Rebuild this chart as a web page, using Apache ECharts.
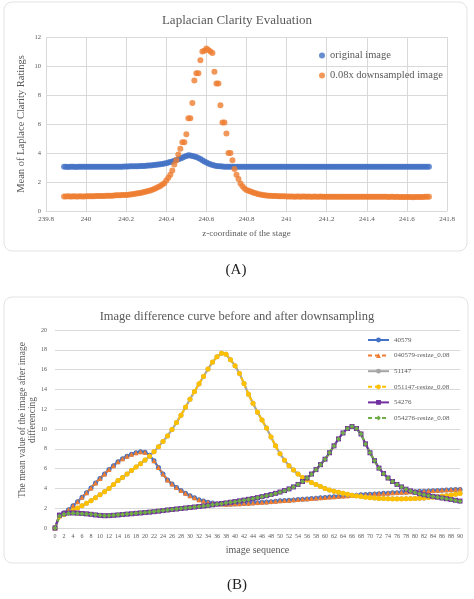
<!DOCTYPE html>
<html>
<head>
<meta charset="utf-8">
<script src="https://cdn.jsdelivr.net/npm/echarts@6/dist/echarts.min.js"></script>
<style>
  html, body { margin: 0; padding: 0; background: #fff; }
  #chart { width: 474px; height: 599px; }
</style>
</head>
<body>
<div id="chart"></div>
<script>
// ---- (A) Laplacian clarity: z-coordinate of the stage ----
const zValues = [
  239.89, 239.90, 239.91, 239.92, 239.93, 239.94, 239.95, 239.96, 239.97, 239.98, 239.99,
  240.00, 240.01, 240.02, 240.03, 240.04, 240.05, 240.06, 240.07, 240.08, 240.09,
  240.10, 240.11, 240.12, 240.13, 240.14, 240.15, 240.16, 240.17, 240.18, 240.19,
  240.20, 240.21, 240.22, 240.23, 240.24, 240.25, 240.26, 240.27, 240.28, 240.29,
  240.30, 240.31, 240.32, 240.33, 240.34, 240.35, 240.36, 240.37, 240.38, 240.39,
  240.40, 240.41, 240.42, 240.43, 240.44, 240.45, 240.46, 240.47, 240.48, 240.49,
  240.50, 240.51, 240.52, 240.53, 240.54, 240.55, 240.56, 240.57, 240.58, 240.59,
  240.60, 240.61, 240.62, 240.63, 240.64, 240.65, 240.66, 240.67, 240.68, 240.69,
  240.70, 240.71, 240.72, 240.73, 240.74, 240.75, 240.76, 240.77, 240.78, 240.79,
  240.80, 240.81, 240.82, 240.83, 240.84, 240.85, 240.86, 240.87, 240.88, 240.89,
  240.90, 240.91, 240.92, 240.93, 240.94, 240.95, 240.96, 240.97, 240.98, 240.99,
  241.00, 241.01, 241.02, 241.03, 241.04, 241.05, 241.06, 241.07, 241.08, 241.09,
  241.10, 241.11, 241.12, 241.13, 241.14, 241.15, 241.16, 241.17, 241.18, 241.19,
  241.20, 241.21, 241.22, 241.23, 241.24, 241.25, 241.26, 241.27, 241.28, 241.29,
  241.30, 241.31, 241.32, 241.33, 241.34, 241.35, 241.36, 241.37, 241.38, 241.39,
  241.40, 241.41, 241.42, 241.43, 241.44, 241.45, 241.46, 241.47, 241.48, 241.49,
  241.50, 241.51, 241.52, 241.53, 241.54, 241.55, 241.56, 241.57, 241.58, 241.59,
  241.60, 241.61, 241.62, 241.63, 241.64, 241.65, 241.66, 241.67, 241.68, 241.69, 241.70, 241.71
];

const originalImage = [
  3.05, 3.05, 3.04, 3.05, 3.05, 3.05, 3.04, 3.05, 3.05, 3.05, 3.05,
  3.05, 3.05, 3.05, 3.05, 3.05, 3.05, 3.05, 3.05, 3.05, 3.05,
  3.05, 3.05, 3.05, 3.06, 3.05, 3.06, 3.06, 3.06, 3.06, 3.07,
  3.07, 3.07, 3.08, 3.08, 3.08, 3.09, 3.09, 3.10, 3.10, 3.11,
  3.12, 3.13, 3.14, 3.15, 3.17, 3.19, 3.21, 3.23, 3.25, 3.28,
  3.30, 3.34, 3.38, 3.42, 3.47, 3.52, 3.57, 3.62, 3.68, 3.74,
  3.80, 3.85, 3.83, 3.80, 3.76, 3.72, 3.65, 3.58, 3.50, 3.42,
  3.35, 3.28, 3.22, 3.18, 3.14, 3.11, 3.09, 3.08, 3.07, 3.06,
  3.06, 3.05, 3.05, 3.05, 3.05, 3.05, 3.05, 3.05, 3.05, 3.05,
  3.05, 3.05, 3.05, 3.05, 3.05, 3.05, 3.05, 3.05, 3.05, 3.05,
  3.05, 3.05, 3.05, 3.05, 3.05, 3.05, 3.05, 3.05, 3.05, 3.05,
  3.05, 3.05, 3.05, 3.05, 3.05, 3.05, 3.05, 3.05, 3.05, 3.05,
  3.05, 3.05, 3.05, 3.05, 3.05, 3.05, 3.05, 3.05, 3.05, 3.05,
  3.05, 3.05, 3.05, 3.05, 3.05, 3.05, 3.05, 3.05, 3.05, 3.05,
  3.05, 3.05, 3.05, 3.05, 3.05, 3.05, 3.05, 3.05, 3.05, 3.05,
  3.05, 3.05, 3.05, 3.05, 3.05, 3.05, 3.05, 3.05, 3.05, 3.05,
  3.05, 3.05, 3.05, 3.05, 3.05, 3.05, 3.05, 3.05, 3.05, 3.05,
  3.05, 3.05, 3.05, 3.05, 3.05, 3.05, 3.05, 3.05, 3.05, 3.05, 3.05, 3.05
];

const downsampledImage = [
  1.00, 1.00, 1.01, 1.00, 1.00, 1.01, 1.00, 1.00, 1.01, 1.00, 1.00,
  1.01, 1.01, 1.02, 1.02, 1.02, 1.03, 1.03, 1.03, 1.04, 1.04,
  1.05, 1.05, 1.06, 1.06, 1.07, 1.08, 1.08, 1.09, 1.10, 1.10,
  1.11, 1.12, 1.14, 1.16, 1.18, 1.20, 1.22, 1.25, 1.28, 1.31,
  1.35, 1.38, 1.42, 1.47, 1.52, 1.58, 1.65, 1.73, 1.82, 1.92,
  2.10, 2.30, 2.50, 2.80, 3.20, 3.50, 3.90, 4.30, 4.75, 4.75,
  5.30, 6.40, 6.40, 7.45, 9.00, 9.50, 9.50, 10.40, 11.00, 11.05,
  11.20, 11.10, 11.00, 10.90, 9.60, 8.80, 8.80, 7.30, 6.10, 6.10,
  5.35, 4.00, 4.00, 3.50, 2.90, 2.50, 2.20, 1.90, 1.70, 1.55,
  1.45, 1.40, 1.35, 1.30, 1.25, 1.20, 1.16, 1.13, 1.10, 1.08,
  1.07, 1.06, 1.05, 1.04, 1.03, 1.03, 1.02, 1.02, 1.01, 1.01,
  1.00, 1.00, 1.00, 1.00, 0.99, 1.00, 1.00, 0.99, 1.00, 1.00,
  0.99, 1.00, 0.99, 0.99, 1.00, 0.99, 0.99, 1.00, 0.99, 0.99,
  0.99, 0.99, 0.98, 0.99, 0.99, 0.98, 0.99, 0.98, 0.98, 0.99,
  0.98, 0.99, 0.98, 0.98, 0.99, 0.98, 0.98, 0.98, 0.99, 0.98,
  0.98, 0.98, 0.98, 0.98, 0.98, 0.98, 0.98, 0.98, 0.98, 0.98,
  0.98, 0.97, 0.98, 0.98, 0.97, 0.98, 0.97, 0.97, 0.97, 0.97,
  0.97, 0.96, 0.96, 0.95, 0.96, 0.96, 0.97, 0.97, 0.97, 0.98, 0.99, 0.98
];

// ---- (B) image difference curves ----
const seqLabels = [
  0, 1, 2, 3, 4, 5, 6, 7, 8, 9, 10, 11, 12, 13, 14, 15, 16, 17, 18, 19,
  20, 21, 22, 23, 24, 25, 26, 27, 28, 29, 30, 31, 32, 33, 34, 35, 36, 37, 38, 39,
  40, 41, 42, 43, 44, 45, 46, 47, 48, 49, 50, 51, 52, 53, 54, 55, 56, 57, 58, 59,
  60, 61, 62, 63, 64, 65, 66, 67, 68, 69, 70, 71, 72, 73, 74, 75, 76, 77, 78, 79,
  80, 81, 82, 83, 84, 85, 86, 87, 88, 89, 90
];

const s40579 = [
  0, 1.30, 1.55, 1.85, 2.25, 2.65, 3.10, 3.55, 4.05, 4.55,
  5.00, 5.45, 5.90, 6.30, 6.70, 7.00, 7.25, 7.45, 7.60, 7.70,
  7.65, 7.35, 6.80, 6.10, 5.45, 4.85, 4.45, 4.10, 3.80, 3.50,
  3.25, 3.05, 2.85, 2.72, 2.60, 2.52, 2.46, 2.42, 2.40, 2.41,
  2.43, 2.45, 2.48, 2.50, 2.53, 2.56, 2.59, 2.62, 2.66, 2.70,
  2.74, 2.77, 2.80, 2.84, 2.87, 2.91, 2.94, 2.98, 3.01, 3.05,
  3.08, 3.12, 3.15, 3.19, 3.22, 3.26, 3.29, 3.32, 3.35, 3.38,
  3.41, 3.44, 3.47, 3.50, 3.52, 3.55, 3.57, 3.60, 3.62, 3.65,
  3.67, 3.70, 3.72, 3.74, 3.77, 3.79, 3.82, 3.84, 3.86, 3.89,
  3.90
];
const s040579 = [
  0, 1.30, 1.56, 1.86, 2.26, 2.66, 3.10, 3.56, 4.05, 4.55,
  5.00, 5.46, 5.90, 6.30, 6.70, 7.00, 7.26, 7.46, 7.60, 7.70,
  7.66, 7.36, 6.80, 6.10, 5.46, 4.86, 4.45, 4.10, 3.80, 3.50,
  3.25, 3.05, 2.86, 2.72, 2.61, 2.53, 2.47, 2.43, 2.41, 2.42,
  2.44, 2.46, 2.49, 2.51, 2.54, 2.57, 2.60, 2.63, 2.67, 2.71,
  2.75, 2.78, 2.81, 2.85, 2.88, 2.92, 2.95, 2.99, 3.02, 3.06,
  3.09, 3.13, 3.16, 3.20, 3.23, 3.27, 3.30, 3.33, 3.36, 3.39,
  3.42, 3.45, 3.48, 3.51, 3.54, 3.57, 3.59, 3.62, 3.64, 3.67,
  3.69, 3.72, 3.74, 3.76, 3.79, 3.81, 3.84, 3.86, 3.88, 3.91,
  3.94
];
const s51147 = [
  0, 1.15, 1.35, 1.55, 1.78, 2.00, 2.25, 2.50, 2.75, 3.05,
  3.35, 3.65, 4.00, 4.40, 4.80, 5.10, 5.45, 5.80, 6.15, 6.50,
  6.85, 7.25, 7.70, 8.20, 8.75, 9.30, 9.95, 10.65, 11.40, 12.20,
  13.00, 13.80, 14.55, 15.30, 16.05, 16.75, 17.30, 17.65, 17.55, 17.00,
  16.40, 15.60, 14.60, 13.50, 12.60, 11.70, 10.90, 10.10, 9.20, 8.30,
  7.50, 6.85, 6.30, 5.85, 5.45, 5.10, 4.85, 4.60, 4.40, 4.20,
  4.00, 3.85, 3.72, 3.60, 3.50, 3.40, 3.32, 3.25, 3.18, 3.12,
  3.07, 3.03, 3.00, 2.98, 2.96, 2.95, 2.95, 2.95, 2.96, 2.97,
  2.99, 3.01, 3.04, 3.08, 3.12, 3.17, 3.22, 3.28, 3.35, 3.42,
  3.50
];
const s051147 = [
  0, 1.15, 1.36, 1.56, 1.78, 2.01, 2.25, 2.51, 2.76, 3.05,
  3.36, 3.66, 4.00, 4.40, 4.80, 5.11, 5.45, 5.80, 6.16, 6.50,
  6.86, 7.25, 7.70, 8.21, 8.75, 9.30, 9.96, 10.65, 11.40, 12.20,
  13.00, 13.80, 14.56, 15.30, 16.05, 16.76, 17.30, 17.66, 17.55, 17.00,
  16.40, 15.60, 14.60, 13.50, 12.60, 11.70, 10.90, 10.10, 9.20, 8.30,
  7.50, 6.85, 6.30, 5.85, 5.45, 5.10, 4.85, 4.60, 4.40, 4.20,
  4.00, 3.85, 3.72, 3.60, 3.50, 3.40, 3.32, 3.24, 3.17, 3.11,
  3.06, 3.02, 2.99, 2.97, 2.95, 2.94, 2.94, 2.94, 2.95, 2.96,
  2.98, 3.00, 3.03, 3.07, 3.11, 3.16, 3.21, 3.27, 3.34, 3.41,
  3.48
];
const s54276 = [
  0, 1.30, 1.45, 1.52, 1.52, 1.50, 1.47, 1.43, 1.38, 1.32,
  1.27, 1.24, 1.25, 1.28, 1.32, 1.36, 1.40, 1.44, 1.48, 1.52,
  1.56, 1.60, 1.65, 1.70, 1.76, 1.82, 1.87, 1.92, 1.97, 2.02,
  2.07, 2.12, 2.17, 2.22, 2.28, 2.34, 2.40, 2.47, 2.53, 2.60,
  2.67, 2.74, 2.82, 2.90, 2.98, 3.07, 3.17, 3.27, 3.38, 3.50,
  3.63, 3.78, 3.95, 4.15, 4.40, 4.70, 5.05, 5.45, 5.90, 6.40,
  6.95, 7.60, 8.30, 9.00, 9.60, 10.05, 10.25, 10.05, 9.50, 8.50,
  7.60, 6.80, 6.05, 5.50, 5.05, 4.70, 4.40, 4.15, 3.92, 3.75,
  3.60, 3.47, 3.36, 3.27, 3.19, 3.11, 3.03, 2.96, 2.88, 2.80,
  2.72
];
const s054276 = [
  0, 1.20, 1.38, 1.46, 1.48, 1.47, 1.45, 1.42, 1.38, 1.33,
  1.28, 1.25, 1.26, 1.29, 1.33, 1.37, 1.41, 1.45, 1.49, 1.53,
  1.57, 1.61, 1.66, 1.71, 1.77, 1.82, 1.87, 1.92, 1.97, 2.02,
  2.07, 2.12, 2.17, 2.22, 2.28, 2.34, 2.40, 2.46, 2.52, 2.59,
  2.66, 2.73, 2.81, 2.89, 2.97, 3.06, 3.16, 3.26, 3.37, 3.49,
  3.62, 3.77, 3.94, 4.14, 4.39, 4.69, 5.04, 5.44, 5.89, 6.39,
  6.94, 7.59, 8.29, 8.99, 9.59, 10.04, 10.24, 10.04, 9.49, 8.49,
  7.59, 6.79, 6.04, 5.49, 5.04, 4.69, 4.39, 4.14, 3.91, 3.74,
  3.59, 3.46, 3.35, 3.26, 3.18, 3.10, 3.02, 2.95, 2.87, 2.79,
  2.71
];

const seriesB = [
  { name: '40579', data: s40579, color: '#4472C4', dashed: false, symbol: 'circle' },
  { name: '040579-resize_0.08', data: s040579, color: '#ED7D31', dashed: true, symbol: 'triangle' },
  { name: '51147', data: s51147, color: '#A5A5A5', dashed: false, symbol: 'circle' },
  { name: '051147-resize_0.08', data: s051147, color: '#FFC000', dashed: true, symbol: 'circle' },
  { name: '54276', data: s54276, color: '#7030A0', dashed: false, symbol: 'rect' },
  { name: '054276-resize_0.08', data: s054276, color: '#70AD47', dashed: true, symbol: 'diamond' }
];

const serif = '"Liberation Serif", "DejaVu Serif", serif';
const textGray = '#595959';
const gridGray = '#d9d9d9';

const chart = echarts.init(document.getElementById('chart'));

const option = {
  animation: false,
  backgroundColor: '#fff',
  textStyle: { fontFamily: serif },
  title: [
    {
      text: 'Laplacian Clarity Evaluation',
      left: 'center', top: 9,
      textStyle: { fontFamily: serif, fontSize: 13, fontWeight: 'normal', color: textGray }
    },
    {
      text: 'Image difference curve before and after downsampling',
      left: 'center', top: 305,
      textStyle: { fontFamily: serif, fontSize: 12.5, fontWeight: 'normal', color: textGray }
    }
  ],
  legend: [
    {
      data: ['original image', '0.08x downsampled image'],
      orient: 'vertical', left: 314, top: 45,
      icon: 'circle', itemWidth: 6, itemHeight: 6, itemGap: 9,
      textStyle: { fontFamily: serif, fontSize: 10.5, color: textGray }
    },
    {
      data: seriesB.map(s => s.name),
      orient: 'vertical', left: 362, top: 331,
      itemWidth: 21, itemHeight: 6, itemGap: 7.6,
      textStyle: { fontFamily: serif, fontSize: 7, color: textGray, lineHeight: 8 }
    }
  ],
  grid: [
    { left: 46, right: 27, top: 37, height: 174 },
    { left: 55, right: 14, top: 330, height: 198 }
  ],
  xAxis: [
    {
      type: 'value', gridIndex: 0, min: 239.8, max: 241.8, interval: 0.2,
      name: 'z-coordinate of the stage', nameLocation: 'middle', nameGap: 18,
      nameTextStyle: { fontFamily: serif, fontSize: 9, color: textGray },
      axisLine: { lineStyle: { color: gridGray } },
      axisTick: { show: false },
      axisLabel: { fontFamily: serif, fontSize: 7, color: textGray, margin: 5 },
      splitLine: { show: true, lineStyle: { color: gridGray } }
    },
    {
      type: 'category', gridIndex: 1, data: seqLabels, boundaryGap: false,
      name: 'image sequence', nameLocation: 'middle', nameGap: 17,
      nameTextStyle: { fontFamily: serif, fontSize: 10, color: textGray },
      axisLine: { lineStyle: { color: gridGray } },
      axisTick: { show: false },
      axisLabel: { fontFamily: serif, fontSize: 6, color: textGray, margin: 5, interval: 1 },
      splitLine: { show: false }
    }
  ],
  yAxis: [
    {
      type: 'value', gridIndex: 0, min: 0, max: 12, interval: 2,
      name: 'Mean of Laplace Clarity Ratings', nameLocation: 'middle', nameGap: 19,
      nameMoveOverlap: false,
      nameTextStyle: { fontFamily: serif, fontSize: 10.5, color: textGray },
      axisLine: { show: false }, axisTick: { show: false },
      axisLabel: { fontFamily: serif, fontSize: 6.5, color: textGray, margin: 5 },
      splitLine: { lineStyle: { color: gridGray } }
    },
    {
      type: 'value', gridIndex: 1, min: 0, max: 20, interval: 2,
      name: 'The mean value of the image after image\ndifferencing', nameLocation: 'middle', nameGap: 18,
      nameMoveOverlap: false,
      nameTextStyle: { fontFamily: serif, fontSize: 9.5, color: textGray, lineHeight: 10, align: 'center', padding: [0, 0, 0, 18] },
      axisLine: { show: false }, axisTick: { show: false },
      axisLabel: { fontFamily: serif, fontSize: 6, color: textGray, margin: 8 },
      splitLine: { lineStyle: { color: gridGray } }
    }
  ],
  graphic: [
    { type: 'rect', shape: { x: 4, y: 2, width: 463, height: 249, r: 8 },
      style: { fill: 'none', stroke: '#e3e3e3', lineWidth: 1 }, z: -1 },
    { type: 'rect', shape: { x: 4, y: 297, width: 464, height: 266, r: 8 },
      style: { fill: 'none', stroke: '#e3e3e3', lineWidth: 1 }, z: -1 },
    { type: 'text', x: 236, y: 270,
      style: { text: '(A)', fontFamily: serif, fontSize: 15, fill: '#222', align: 'center', verticalAlign: 'middle' } },
    { type: 'text', x: 237, y: 585,
      style: { text: '(B)', fontFamily: serif, fontSize: 15, fill: '#222', align: 'center', verticalAlign: 'middle' } }
  ],
  series: [
    {
      name: 'original image', type: 'scatter', xAxisIndex: 0, yAxisIndex: 0,
      symbolSize: 6, itemStyle: { color: '#4472C4' },
      data: zValues.map((z, i) => [z, originalImage[i]])
    },
    {
      name: '0.08x downsampled image', type: 'scatter', xAxisIndex: 0, yAxisIndex: 0,
      symbolSize: 6, itemStyle: { color: '#ED7D31' },
      data: zValues.map((z, i) => [z, downsampledImage[i]])
    }
  ].concat(seriesB.map(s => ({
    name: s.name, type: 'line', xAxisIndex: 1, yAxisIndex: 1,
    data: s.data,
    symbol: s.symbol, symbolSize: 5, showSymbol: true, showAllSymbol: true,
    itemStyle: { color: s.color },
    lineStyle: { color: s.color, width: 2.2, type: s.dashed ? [4, 3] : 'solid' }
  })))
};

chart.setOption(option);
</script>
</body>
</html>
